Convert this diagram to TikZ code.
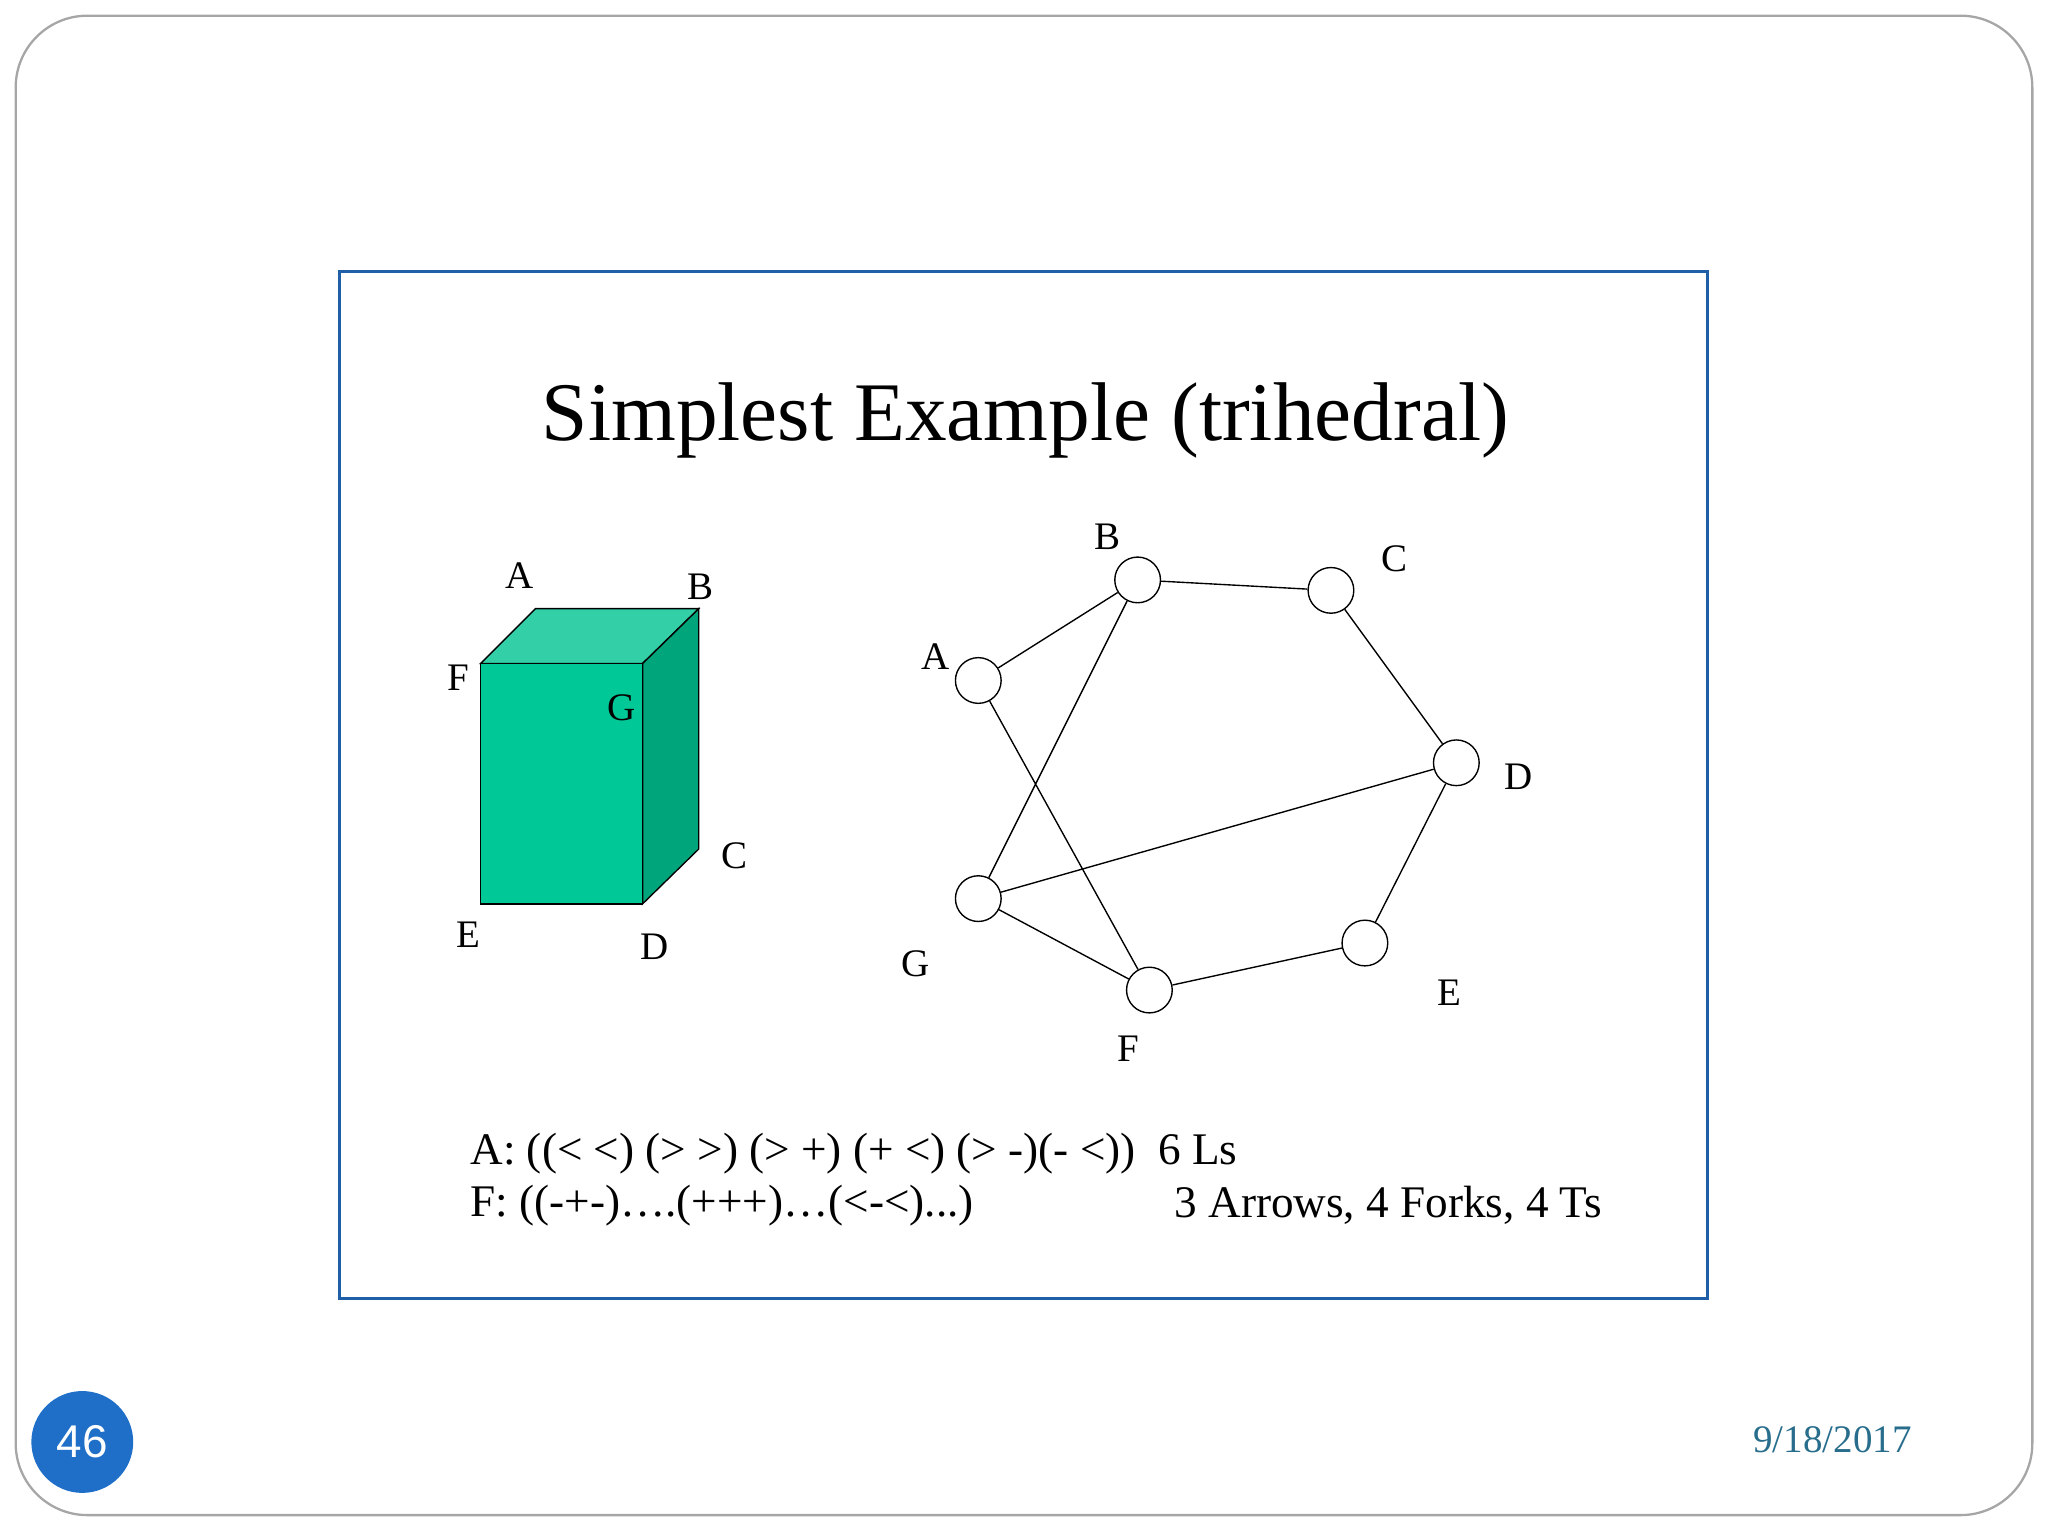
\documentclass[tikz,border=0pt]{standalone}
\usepackage{fontspec}
\setmainfont{Liberation Serif}
\newfontfamily\sansf{Liberation Sans}
\begin{document}
\begin{tikzpicture}[x=0.02cm,y=-0.02cm,
  vtx/.style={circle,draw,fill=white,minimum size=0.7cm,inner sep=0pt,line width=0.6pt},
  lbl/.style={font=\fontsize{17}{20}\selectfont},
  edge/.style={line width=0.6pt}]
\useasboundingbox (0,0) rectangle (1568,1176);
\draw[gray!70,line width=1pt,rounded corners=1.1cm] (12,12) rectangle (1556,1160);
\draw[color={rgb,255:red,31;green,95;blue,168},line width=1.2pt] (260,208) rectangle (1307,994);
\node[font=\fontsize{36.3}{42}\selectfont] (title) at (785,322) {Simplest Example (trihedral)};
% cube
\fill[fill={rgb,255:red,51;green,208;blue,168},draw=black,line width=0.6pt] (368,508) -- (410,466) -- (535,466) -- (492,508) -- cycle;
\fill[fill={rgb,255:red,0;green,165;blue,124},draw=black,line width=0.6pt] (492,508) -- (535,466) -- (535,650) -- (492,692) -- cycle;
\fill[fill={rgb,255:red,0;green,200;blue,150},draw=black,line width=0.6pt] (368,508) rectangle (492,692);
\node[lbl] (cA) at (398,441) {A};
\node[lbl] (cB) at (536,449) {B};
\node[lbl] (cF) at (351,519) {F};
\node[lbl] (cG) at (476,542) {G};
\node[lbl] (cC) at (562,655) {C};
\node[lbl] (cE) at (359,716) {E};
\node[lbl] (cD) at (501,725) {D};
% graph
\node[vtx] (B) at (871,444) {};
\node[vtx] (C) at (1019,452) {};
\node[vtx] (A) at (749,521) {};
\node[vtx] (D) at (1115,584) {};
\node[vtx] (G) at (749,688) {};
\node[vtx] (E) at (1045,722) {};
\node[vtx] (F) at (880,758) {};
\draw[edge] (A)--(B) (B)--(C) (C)--(D) (D)--(E) (E)--(F) (F)--(G) (G)--(D) (G)--(B) (A)--(F);
\node[lbl] (lA) at (716,503) {A};
\node[lbl] (lB) at (848,411) {B};
\node[lbl] (lC) at (1068,428) {C};
\node[lbl] (lD) at (1163,595) {D};
\node[lbl] (lE) at (1110,760) {E};
\node[lbl] (lF) at (864,803) {F};
\node[lbl] (lG) at (701,738) {G};
% text
\node[anchor=west,font=\fontsize{19.7}{24}\selectfont] (t1) at (354,883) {A: ((< <) (> >) (> +) (+ <) (> -)(- <))\ \ 6 Ls};
\node[anchor=west,font=\fontsize{19.7}{24}\selectfont] (t2) at (354,923) {F: ((-+-)\dots.(+++)\dots(<-<)...)};
\node[anchor=west,font=\fontsize{19.7}{24}\selectfont] (t3) at (893,923) {3 Arrows, 4 Forks, 4 Ts};
% footer
\node[circle,fill={rgb,255:red,31;green,111;blue,200},minimum size=1.56cm,inner sep=0pt,text=white,font=\sansf\fontsize{20}{24}\selectfont] (num) at (63,1104) {46};
\node[text={rgb,255:red,40;green,110;blue,140},font=\fontsize{17}{20}\selectfont] (date) at (1403,1102) {9/18/2017};
\end{tikzpicture}
\end{document}
